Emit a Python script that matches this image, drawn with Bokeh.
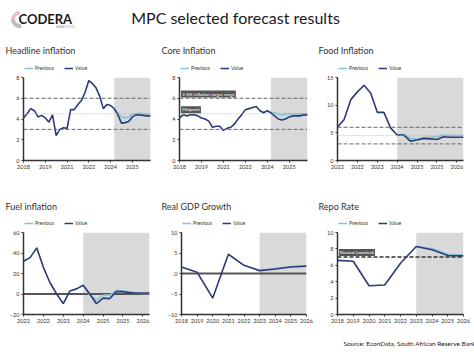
from bokeh.plotting import figure
from bokeh.models import (Range1d, FixedTicker, BoxAnnotation, Span, Label,
                          Legend, LegendItem)
from bokeh.layouts import column, row
from bokeh.core.properties import value
from bokeh.embed import file_html
from bokeh.resources import INLINE

# ---------------- data ----------------
quarters_2018 = [2018 + i * 0.25 for i in range(36)]          # 2018Q1 .. 2026Q4
quarters_2022 = [2022 + i * 0.25 for i in range(20)]          # 2022Q1 .. 2026Q4
years = [2018, 2019, 2020, 2021, 2022, 2023, 2024, 2025, 2026]

headline_value = [4.1, 4.5, 5.0, 4.8, 4.2, 4.35, 4.1, 3.7, 4.4, 2.4, 3.0, 3.15,
                  3.1, 4.9, 4.9, 5.4, 5.8, 6.6, 7.7, 7.4, 7.0, 6.2, 5.0, 5.4,
                  5.3, 5.0, 4.4, 3.6, 3.65, 3.75, 4.2, 4.4, 4.4, 4.35, 4.3, 4.3]
headline_prev = [5.0, 4.6, 4.2, 4.15, 4.2, 4.5, 4.5, 4.55, 4.5, 4.5, 4.5]

core_value = [4.1, 4.4, 4.3, 4.4, 4.4, 4.3, 4.1, 4.0, 3.8, 3.2, 3.3, 3.3,
              2.9, 3.1, 3.2, 3.5, 4.0, 4.4, 4.9, 5.0, 5.1, 5.2, 4.8, 4.6,
              4.8, 4.6, 4.3, 4.0, 3.9, 4.0, 4.2, 4.3, 4.3, 4.3, 4.4, 4.4]
core_prev = [4.6, 4.6, 4.5, 4.4, 4.45, 4.5, 4.5, 4.5, 4.5, 4.5, 4.5]

food_value = [6.0, 7.4, 11.0, 12.4, 13.6, 12.2, 8.7, 8.7, 5.9, 4.6,
              4.6, 3.5, 3.7, 4.0, 3.9, 3.8, 4.3, 4.2, 4.2, 4.2]
food_prev = [4.6, 4.7, 4.0, 3.9, 4.1, 4.2, 4.3, 4.6, 4.5, 4.5, 4.5]

fuel_value = [32, 35.5, 45, 26, 11, 0, -9.5, 3, 5, 8.5,
              0, -9.5, -4, -4.5, 2.5, 2.3, 1.3, 1.0, 1.0, 1.0]
fuel_prev = [8.5, -1, -6, -1, -1, 3.5, 3.0, 2.0, 1.0, 0.5, 0.5]

gdp_value = [1.6, 0.3, -6.0, 4.7, 2.0, 0.7, 1.1, 1.6, 1.8]
gdp_prev = [0.7, 1.2, 1.7, 1.85]

repo_value = [6.6, 6.5, 3.5, 3.6, 6.25, 8.3, 7.9, 7.2, 7.15]
repo_prev = [8.3, 8.05, 7.35, 7.25]

q18_ticks = [2018.0, 2019.5, 2021.0, 2022.5, 2024.0, 2025.5]
q18_labels = ["2018", "2019", "2021", "2022", "2024", "2025"]
q22_ticks = [2022.0, 2022.75, 2023.5, 2024.25, 2025.0, 2025.75, 2026.5]
q22_labels = ["2022", "2022", "2023", "2024", "2025", "2025", "2026"]
year_labels = [str(y) for y in years]

forecast_start_q = 2024.25
forecast_start_y = 2023

target_upper, target_mid, target_lower = 6, 4.5, 3
neutral_repo = 7.0

# ---------------- styling ----------------
FONT = "Lato"
VALUE_C = "#2d3a78"
PREV_C = "#86c3d6"
BAND_C = "#bcdde8"
SHADE_C = "#d9d9d9"
REF_C = "#666666"
AX_C = "#333333"


def blank(w, h, yr):
    f = figure(width=w, height=h, output_backend="svg", toolbar_location=None,
               x_range=Range1d(0, w), y_range=Range1d(*yr), min_border=0,
               x_axis_location=None, y_axis_location=None)
    f.grid.visible = False
    f.outline_line_color = None
    return f


def header_strip(h, title_y, entries):
    """One full-width strip holding three panel titles and their legends.
    The legend's series lie far outside this strip's range, so only the
    legend swatches are visible."""
    s = blank(474, h, (h, 0))
    for title, tx, lx, vx, vy, prev_y in entries:
        s.text(x=[tx], y=[title_y], text=[title], text_font=value(FONT),
               text_font_size="9px", text_color="#333333",
               text_baseline="middle", text_align="left")
        px = vx[len(vx) - len(prev_y):]
        r_prev = s.line(px, prev_y, line_color=PREV_C, line_width=1.5)
        r_val = s.line(vx, vy, line_color=VALUE_C, line_width=1.5)
        leg = Legend(items=[LegendItem(label="Previous", renderers=[r_prev]),
                            LegendItem(label="Value", renderers=[r_val])],
                     orientation="horizontal", location=(lx, 3),
                     label_text_font=FONT, label_text_font_size="5px",
                     label_text_color="#333333", glyph_width=9, glyph_height=6,
                     label_standoff=2, spacing=9, padding=0, margin=0,
                     label_height=6, border_line_alpha=0,
                     background_fill_alpha=0)
        s.add_layout(leg)
    return s


def panel(w, h, bl, br, bt, bb, xr, xticks, xlabels, yr, yticks,
          vx, vy, prev_y, shade):
    p = figure(width=w, height=h, output_backend="svg", toolbar_location=None,
               x_range=Range1d(*xr), y_range=Range1d(*yr),
               min_border_left=bl, min_border_right=br,
               min_border_top=bt, min_border_bottom=bb)
    p.outline_line_color = None
    p.xgrid.visible = False
    p.ygrid.visible = False

    for ax in (p.xaxis[0], p.yaxis[0]):
        ax.axis_line_color = AX_C
        ax.axis_line_width = 1.5
        ax.major_tick_line_color = AX_C
        ax.major_tick_out = 2
        ax.major_tick_in = 0
        ax.minor_tick_line_color = None
        ax.major_label_text_font = FONT
        ax.major_label_text_font_size = "5.5px"
        ax.major_label_text_color = "#333333"
        ax.major_label_standoff = 2
    p.xaxis.ticker = FixedTicker(ticks=xticks)
    p.xaxis.major_label_overrides = {t: l for t, l in zip(xticks, xlabels)}
    p.yaxis.ticker = FixedTicker(ticks=yticks)

    p.add_layout(BoxAnnotation(left=shade, fill_color=SHADE_C, fill_alpha=1,
                               line_color=None, level="underlay"))

    px = vx[len(vx) - len(prev_y):]
    vy_tail = vy[len(vy) - len(prev_y):]
    p.varea(x=px, y1=prev_y, y2=vy_tail, fill_color=BAND_C, fill_alpha=0.7)
    p.line(px, prev_y, line_color=PREV_C, line_width=1.5)
    p.line(vx, vy, line_color=VALUE_C, line_width=1.6)
    return p


def target_lines(p):
    p.add_layout(Span(location=target_upper, dimension="width", line_color=REF_C,
                      line_dash="4 2", line_width=1))
    p.add_layout(Span(location=target_lower, dimension="width", line_color=REF_C,
                      line_dash="4 2", line_width=1))
    p.add_layout(Span(location=target_mid, dimension="width", line_color="#aaaaaa",
                      line_dash="1 2", line_width=1))


def zero_line(p):
    p.add_layout(Span(location=0, dimension="width", line_color="#555555",
                      line_width=2, level="underlay"))


def note(p, x, y, txt):
    p.add_layout(Label(x=x, y=y, text=txt, text_font=FONT, text_font_size="4.5px",
                       text_color="white", background_fill_color="#555555",
                       background_fill_alpha=1, text_baseline="middle",
                       padding=1))


# ---------------- panels ----------------
H1S, H1P = 34, 116      # row 1: strip + plot
H2S, H2P = 39, 101      # row 2: strip + plot

p1 = panel(158, H1P, 23, 8, 3, 30,
           (2018, 2026.75), q18_ticks, q18_labels, (0, 8), [0, 2, 4, 6, 8],
           quarters_2018, headline_value, headline_prev, forecast_start_q)
target_lines(p1)

p2 = panel(158, H1P, 21, 9, 3, 30,
           (2018, 2026.75), q18_ticks, q18_labels, (0, 8), [0, 2, 4, 6, 8],
           quarters_2018, core_value, core_prev, forecast_start_q)
target_lines(p2)
note(p2, 2018.1, 6.4, "3-6% inflation target range")
note(p2, 2018.1, 4.9, "Midpoint")

p3 = panel(158, H1P, 21, 11, 3, 30,
           (2022, 2026.75), q22_ticks, q22_labels, (0, 15), [0, 5, 10, 15],
           quarters_2022, food_value, food_prev, forecast_start_q)
target_lines(p3)

p4 = panel(158, H2P, 23, 9, 3, 16,
           (2022, 2026.75), q22_ticks, q22_labels, (-20, 60), [-20, 0, 20, 40, 60],
           quarters_2022, fuel_value, fuel_prev, forecast_start_q)
zero_line(p4)

p5 = panel(158, H2P, 23, 10, 3, 16,
           (2018, 2026), years, year_labels, (-10, 10), [-10, -5, 0, 5, 10],
           years, gdp_value, gdp_prev, forecast_start_y)
zero_line(p5)

p6 = panel(158, H2P, 21, 11, 3, 16,
           (2018, 2026), years, year_labels, (0, 10), [0, 2, 4, 6, 8, 10],
           years, repo_value, repo_prev, forecast_start_y)
p6.add_layout(Span(location=neutral_repo, dimension="width", line_color="#333333",
                   line_dash="4 2", line_width=1.5))
note(p6, 2018.1, 7.55, "Neutral (nominal)")

strip1 = header_strip(H1S, 10, [
    ("Headline inflation", 5, 24, quarters_2018, headline_value, headline_prev),
    ("Core Inflation", 161, 180, quarters_2018, core_value, core_prev),
    ("Food Inflation", 318, 338, quarters_2022, food_value, food_prev),
])
strip2 = header_strip(H2S, 16, [
    ("Fuel inflation", 5, 24, quarters_2022, fuel_value, fuel_prev),
    ("Real GDP Growth", 161, 182, years, gdp_value, gdp_prev),
    ("Repo Rate", 318, 338, years, repo_value, repo_prev),
])

# ---------------- header / footer ----------------
hdr = blank(474, 40, (40, 0))
hdr.annular_wedge(x=[19], y=[19], inner_radius=5, outer_radius=8,
                  start_angle=1.6, end_angle=4.9, color="#e3c3c8",
                  inner_radius_units="screen", outer_radius_units="screen")
hdr.annular_wedge(x=[19], y=[19], inner_radius=5, outer_radius=8,
                  start_angle=3.2, end_angle=4.9, color="#bdbdbd",
                  inner_radius_units="screen", outer_radius_units="screen")
hdr.text(x=[18], y=[18], text=["CODERA"], text_font=value(FONT),
         text_font_style="bold", text_font_size="13px", text_color="#1a1a1a",
         text_baseline="middle", text_align="left")
hdr.text(x=[74], y=[26], text=["ANALYTICS"], text_font=value(FONT),
         text_font_size="3.5px", text_color="#999999",
         text_baseline="middle", text_align="right")
hdr.text(x=[235], y=[17], text=["MPC selected forecast results"],
         text_font=value(FONT), text_font_size="16px", text_color="#1a1a1a",
         text_baseline="middle", text_align="center")

ftr = blank(474, 22, (22, 0))
ftr.text(x=[343], y=[13], text=["Source: EconData, South African Reserve Bank"],
         text_font=value(FONT), text_font_size="6.5px", text_color="#1a1a1a",
         text_baseline="middle", text_align="left")

layout = column(hdr,
                strip1, row(p1, p2, p3),
                strip2, row(p4, p5, p6),
                ftr)

open("out.html", "w").write(file_html(layout, INLINE))
